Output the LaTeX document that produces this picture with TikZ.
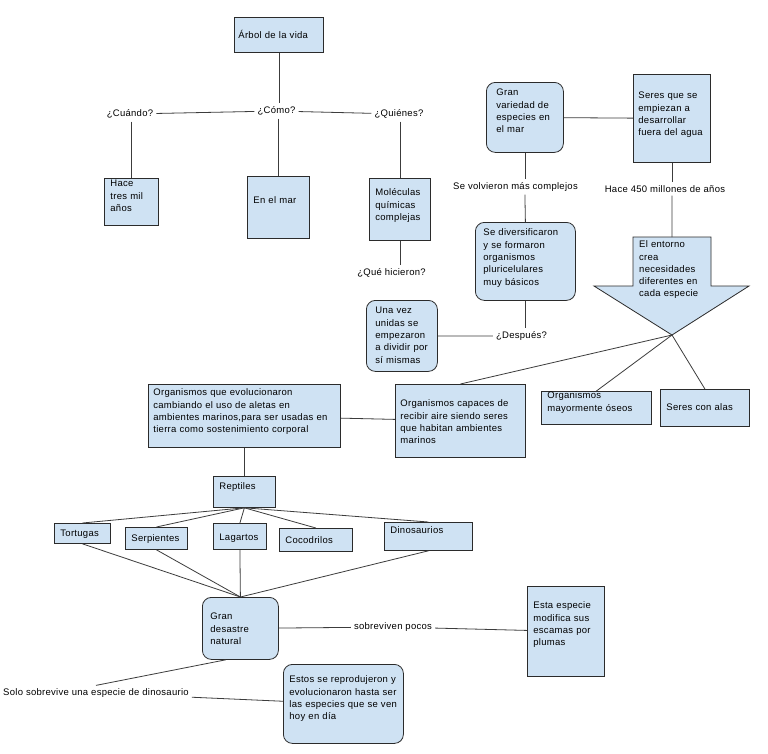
\documentclass[tikz,border=0pt]{standalone}
\usepackage{fontspec}
\setmainfont{Liberation Sans}[LetterSpace=3]
\definecolor{cajaazul}{HTML}{CFE2F3}
\definecolor{borde}{HTML}{2B2B2B}
\definecolor{gris}{HTML}{3C3C3C}
\begin{document}
\begin{tikzpicture}[x=1pt, y=-1pt,
	every node/.style={font=\fontsize{9.5}{12.3}\selectfont},
	caja/.style={draw=borde, fill=cajaazul, line width=0.8pt, anchor=north west, align=left, inner ysep=0pt},
	redonda/.style={caja, rounded corners=9pt},
	medidas/.style n args={4}{inner xsep=#1pt, text width=#2pt, text height=#3pt, text depth=#4pt},
	texto/.style={inner sep=3pt},
	linea/.style={draw=gris, line width=0.8pt}]
		\fill[white] (0,0) rectangle (768,753);
		\useasboundingbox (0,0) rectangle (768,753);

		\node[caja, medidas={4}{81}{21.5}{13.5}] (arbol) at (234,17) {Árbol de la vida};
		\node[texto] (cuando) at (130,114) {¿Cuándo?};
		\node[texto] (como) at (276.5,111) {¿Cómo?};
		\node[texto] (quienes) at (399,114) {¿Quiénes?};
		\node[caja, medidas={6}{42}{8.5}{38.5}] (hace) at (104,178) {Hace\\ tres mil\\ años};
		\node[caja, medidas={6}{50}{27.5}{34.5}] (mar) at (247,176) {En el mar};
		\node[caja, medidas={6}{49}{17.5}{44.5}] (molec) at (369,178) {Moléculas\\ químicas\\ complejas};
		\node[texto] (quehicieron) at (391.5,273) {¿Qué hicieron?};
		\node[redonda, medidas={9}{53}{13.5}{57.5}] (unavez) at (366,300) {Una vez\\ unidas se\\ empezaron\\ a dividir por\\ sí mismas};
		\node[texto] (despues) at (521.5,336) {¿Después?};

		\node[redonda, medidas={10}{57}{13.5}{56.5}] (gran) at (486,82) {Gran\\ variedad de\\ especies en\\ el mar};
		\node[caja, medidas={5}{67}{24.5}{63.5}] (seres) at (633,74) {Seres que se\\ empiezan a\\ desarrollar\\ fuera del agua};
		\node[texto] (volvieron) at (515.5,187) {Se volvieron más complejos};
		\node[texto] (hace450) at (665,189) {Hace 450 millones de años};
		\node[redonda, medidas={8}{84}{13.5}{64.5}] (divers) at (475,222) {Se diversificaron\\ y se formaron\\ organismos\\ pluricelulares\\ muy básicos};

		\draw[linea, fill=cajaazul, draw=borde] (633,237) -- (711,237) -- (711,286) -- (749,286) -- (672,335) -- (594,286) -- (633,286) -- cycle;
		\coordinate (cola) at (672,237);
		\coordinate (punta) at (672,335);
		\node[inner sep=0pt, anchor=north west, align=left, text width=70pt, text height=10.5pt] (entorno) at (639,237) {El entorno\\ crea\\ necesidades\\ diferentes en\\ cada especie};

		\node[caja, medidas={5}{120}{22.5}{50.5}] (orgcap) at (395,384) {Organismos capaces de\\ recibir aire siendo seres\\ que habitan ambientes\\ marinos};
		\node[caja, medidas={6}{98}{7.5}{25.5}] (oseos) at (541,391) {Organismos\\ mayormente óseos};
		\node[caja, medidas={6}{77}{21.5}{15.5}] (alas) at (660,389) {Seres con alas};
		\node[caja, medidas={5}{182}{11.5}{51.5}] (orgevol) at (148,384) {Organismos que evolucionaron\\ cambiando el uso de aletas en\\ ambientes marinos,para ser usadas en\\ tierra como sostenimiento corporal};

		\node[caja, medidas={6}{50}{13.5}{17.5}] (reptiles) at (213,476) {Reptiles};
		\node[caja, medidas={6}{44}{13.5}{6.5}] (tortugas) at (54,523) {Tortugas};
		\node[caja, medidas={6}{50}{14.5}{7.5}] (serpientes) at (125,527) {Serpientes};
		\node[caja, medidas={6}{41}{17.5}{8.5}] (lagartos) at (213,523) {Lagartos};
		\node[caja, medidas={6}{61}{15.5}{7.5}] (cocodrilos) at (279,528) {Cocodrilos};
		\node[caja, medidas={6}{76}{11.5}{16.5}] (dinos) at (384,522) {Dinosaurios};

		\node[redonda, medidas={8}{60}{22.5}{39.5}] (desastre) at (202,597) {Gran\\ desastre\\ natural};
		\node[texto] (sobreviven) at (393,627) {sobreviven pocos};
		\node[caja, medidas={6}{65}{22.5}{67.5}] (esta) at (527,586) {Esta especie\\ modifica sus\\ escamas por\\ plumas};
		\node[texto] (solo) at (96,693) {Solo sobrevive una especie de dinosaurio};
		\node[redonda, medidas={6}{108}{18.5}{60.5}] (estos) at (283,664) {Estos se reprodujeron y\\ evolucionaron hasta ser\\ las especies que se ven\\ hoy en día};

		\draw[linea] (arbol.south) -- (arbol.south |- como.north);
		\draw[linea] (cuando) -- (como) -- (quienes);
		\draw[linea] (hace.north |- cuando.south) -- (hace.north);
		\draw[linea] (mar.north |- como.south) -- (mar.north);
		\draw[linea] (molec.north |- quienes.south) -- (molec.north);
		\draw[linea] (molec.south) -- (molec.south |- quehicieron.north);
		\draw[linea] (unavez) -- (despues);
		\draw[linea] (divers.south) -- (divers.south |- despues.north);
		\draw[linea] (gran.south) -- (gran.south |- volvieron.north);
		\draw[linea] (gran.south |- volvieron.south) -- (divers.north);
		\draw[linea] (gran) -- (seres);
		\draw[linea] (seres.south) -- (seres.south |- hace450.north);
		\draw[linea] (seres.south |- hace450.south) -- (cola);
		\draw[linea] (punta) -- (orgcap.north);
		\draw[linea] (punta) -- (oseos.north);
		\draw[linea] (punta) -- (alas.north);
		\draw[linea] (orgevol) -- (orgcap);
		\draw[linea] (orgevol) -- (reptiles);
		\foreach \r in {tortugas, serpientes, lagartos, cocodrilos, dinos}
			\draw[linea] (reptiles.south) -- (\r.north);
		\foreach \r in {tortugas, serpientes, lagartos, dinos}
			\draw[linea] (\r.south) -- (desastre.north);
		\draw[linea] (desastre) -- (sobreviven) -- (esta);
		\draw[linea] (desastre.245) -- (solo.north);
		\draw[linea] (solo) -- (estos);
\end{tikzpicture}
\end{document}
